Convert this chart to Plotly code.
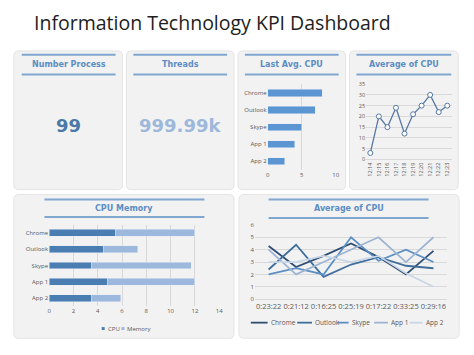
import plotly.graph_objects as go

W, H = 474, 355

# ---------------- data ----------------
apps = ["Chrome", "Outlook", "Skype", "App 1", "App 2"]
last_avg_cpu = [8, 7, 5, 4, 2.5]

cpu_times = ["12:14", "12:15", "12:16", "12:17", "12:18", "12:19", "12:20", "12:21", "12:22", "12:23"]
avg_cpu = [3, 20, 15, 24, 12, 21, 25, 30, 22, 25]

mem_cpu = [5.5, 4.5, 3.5, 4.8, 3.5]
mem_memory = [6.5, 2.8, 8.2, 7.2, 2.4]

time_labels = ["0:23:22", "0:21:12", "0:16:25", "0:25:19", "0:17:22", "0:33:25", "0:29:16"]
chrome = [4.3, 2.6, 3.5, 4.5, 3.4, 2.0, 3.9]
outlook = [2.4, 4.4, 1.8, 2.8, 3.4, 2.7, 2.5]
skype = [2.0, 2.5, 2.0, 5.0, 3.1, 4.0, 3.0]
app1 = [4.0, 2.0, 3.0, 4.0, 5.0, 3.0, 5.0]
app2 = [3.0, 3.0, 3.5, 3.0, 3.5, 2.1, 1.0]
line_series = [chrome, outlook, skype, app1, app2]

kpi_titles = ["Number Process", "Threads"]
kpi_values = ["99", "999.99k"]

# ---------------- styles ----------------
line_colors = ["#2F4E73", "#3F6E9C", "#5B8FC4", "#9DB5D2", "#C9D6E6"]
title_color = "#5B8DC3"
rule_color = "#7FA7CF"
tick_font = dict(family="Open Sans", size=6, color="#595959")
grid = "#D9D9D9"


def px(x):
    return x / W


def py(y):
    return 1 - y / H


def rrect(x0, y0, x1, y1, r=5):
    pts = [("M", [(x0 + r, y0)]), ("L", [(x1 - r, y0)]), ("Q", [(x1, y0), (x1, y0 + r)]),
           ("L", [(x1, y1 - r)]), ("Q", [(x1, y1), (x1 - r, y1)]), ("L", [(x0 + r, y1)]),
           ("Q", [(x0, y1), (x0, y1 - r)]), ("L", [(x0, y0 + r)]), ("Q", [(x0, y0), (x0 + r, y0)])]
    s = ""
    for cmd, ps in pts:
        s += cmd + " " + " ".join(f"{px(a):.5f},{py(b):.5f}" for a, b in ps) + " "
    return s + "Z"


fig = go.Figure()

# Panel 3: Last Avg CPU
fig.add_trace(go.Bar(y=apps, x=last_avg_cpu, orientation="h", marker_color="#5B96D2",
                     xaxis="x", yaxis="y", showlegend=False))
# Panel 4: Average of CPU (time)
fig.add_trace(go.Scatter(x=cpu_times, y=avg_cpu, mode="lines+markers",
                         line=dict(color="#5578A3", width=1.3),
                         marker=dict(size=5, color="white", line=dict(color="#5578A3", width=1)),
                         xaxis="x2", yaxis="y2", showlegend=False))
# Panel 5: CPU Memory stacked
fig.add_trace(go.Bar(y=apps, x=mem_cpu, orientation="h", name="CPU", marker_color="#4A7DB2",
                     xaxis="x3", yaxis="y3", showlegend=False))
fig.add_trace(go.Bar(y=apps, x=mem_memory, orientation="h", name="Memory", marker_color="#9CB8DD",
                     xaxis="x3", yaxis="y3", showlegend=False))
# Panel 6: Average of CPU per app
for name, vals, col in zip(apps, line_series, line_colors):
    fig.add_trace(go.Scatter(x=time_labels, y=vals, mode="lines", name=name,
                             line=dict(color=col, width=1.8),
                             xaxis="x4", yaxis="y4", showlegend=False))

shapes = []
annotations = []

# panels
panels = [(12, 48, 122, 190), (126, 48, 235, 190), (239, 48, 348, 190), (352, 48, 462, 190),
          (12, 195, 235, 342), (240, 195, 463, 342)]
for (x0, y0, x1, y1) in panels:
    shapes.append(dict(type="path", path=rrect(x0, y0, x1, y1, 5), xref="paper", yref="paper",
                       fillcolor="#F2F2F2", line=dict(color="#E4E4E4", width=1), layer="below"))

panel_titles = kpi_titles + ["Last Avg. CPU", "Average of CPU", "CPU Memory", "Average of CPU"]
rules = [(20, 115, 52, 72, 62), (133, 228, 52, 72, 62), (246, 341, 52, 72, 62), (359, 455, 52, 72, 62),
         (43, 205, 200, 218, 209), (270, 432, 200, 219, 209)]
for t, (a, b, ya, yb, yt) in zip(panel_titles, rules):
    for yy in (ya, yb):
        shapes.append(dict(type="line", xref="paper", yref="paper", x0=px(a), x1=px(b), y0=py(yy), y1=py(yy),
                           line=dict(color=rule_color, width=2)))
    annotations.append(dict(text=f"<b>{t}</b>", x=px((a + b) / 2), y=py(yt), xref="paper", yref="paper",
                            showarrow=False, xanchor="center", yanchor="middle",
                            font=dict(family="DejaVu Sans", size=8, color=title_color)))

# KPI values
annotations.append(dict(text=f"<b>{kpi_values[0]}</b>", x=px(67), y=py(124), xref="paper", yref="paper",
                        showarrow=False, xanchor="center", yanchor="middle",
                        font=dict(family="DejaVu Sans", size=18, color="#4A79A8")))
annotations.append(dict(text=f"<b>{kpi_values[1]}</b>", x=px(180), y=py(124), xref="paper", yref="paper",
                        showarrow=False, xanchor="center", yanchor="middle",
                        font=dict(family="DejaVu Sans", size=18, color="#9DB8DA")))

# main title
annotations.append(dict(text="Information Technology KPI Dashboard", x=px(30), y=py(19), xref="paper",
                        yref="paper", showarrow=False, xanchor="left", yanchor="middle",
                        font=dict(family="Open Sans", size=19.5, color="#1E1E1E")))

# legend for CPU Memory
for name, col, sx in [("CPU", "#4A7DB2", 101), ("Memory", "#9CB8DD", 121)]:
    shapes.append(dict(type="rect", xref="paper", yref="paper", x0=px(sx), x1=px(sx + 3),
                       y0=py(333.5), y1=py(330.5), fillcolor=col, line=dict(width=0)))
    annotations.append(dict(text=name, x=px(sx + 4), y=py(332), xref="paper", yref="paper", showarrow=False,
                            xanchor="left", yanchor="middle", font=dict(family="Open Sans", size=6, color="#595959")))

# legend for lines
leg_pos = [(252, 269), (299, 314), (340, 351), (377, 391), (413, 426)]
for name, col, (a, b) in zip(apps, line_colors, leg_pos):
    shapes.append(dict(type="line", xref="paper", yref="paper", x0=px(a), x1=px(b), y0=py(326), y1=py(326),
                       line=dict(color=col, width=1.8)))
    annotations.append(dict(text=name, x=px(b + 1), y=py(326), xref="paper", yref="paper", showarrow=False,
                            xanchor="left", yanchor="middle",
                            font=dict(family="Open Sans", size=6.5, color="#595959")))

fig.update_layout(
    width=W, height=H, autosize=False, margin=dict(l=0, r=0, t=0, b=0),
    paper_bgcolor="white", plot_bgcolor="rgba(0,0,0,0)",
    barmode="stack", bargap=0.58, showlegend=False,
    shapes=shapes, annotations=annotations,
    xaxis=dict(domain=[px(269), px(338)], range=[0, 10], tickvals=[0, 5, 10], showgrid=True, gridcolor=grid,
               zeroline=False, showline=False, ticks="", tickfont=tick_font, anchor="y", fixedrange=True),
    yaxis=dict(domain=[py(169.75), py(82.25)], type="category", autorange="reversed", showgrid=False,
               zeroline=False, ticks="", tickfont=tick_font, anchor="x"),
    xaxis2=dict(domain=[px(368.7), px(455.3)], type="category", range=[-0.5, 9.5], tickangle=-90,
                showgrid=False, zeroline=False, ticks="", showline=True, linecolor=grid,
                tickfont=dict(family="Open Sans", size=5.5, color="#595959"), anchor="y2"),
    yaxis2=dict(domain=[py(159), py(82)], range=[0, 35], dtick=5, showgrid=True, gridcolor=grid,
                zeroline=False, ticks="", tickfont=dict(family="Open Sans", size=5.5, color="#595959"), anchor="x2"),
    xaxis3=dict(domain=[px(47.7), px(220)], range=[0, 14], dtick=2, showgrid=True, gridcolor=grid,
                zeroline=False, ticks="", tickfont=tick_font, anchor="y3"),
    yaxis3=dict(domain=[py(309.4), py(225.6)], type="category", autorange="reversed", showgrid=False,
                zeroline=False, ticks="", tickfont=tick_font, anchor="x3"),
    xaxis4=dict(domain=[px(256.1), px(450.9)], type="category", range=[-0.5, 6.5], showgrid=False,
                zeroline=False, ticks="", showline=True, linecolor=grid,
                tickfont=dict(family="Open Sans", size=7.5, color="#595959"), anchor="y4"),
    yaxis4=dict(domain=[py(302), py(226)], range=[0, 6], dtick=1, showgrid=True, gridcolor=grid,
                zeroline=False, ticks="", tickfont=dict(family="Open Sans", size=6, color="#595959"), anchor="x4"),
)

fig.write_html("out.html", config={"displayModeBar": False, "staticPlot": True},
               post_script="document.body.style.margin='0';document.body.style.overflow='hidden';")
